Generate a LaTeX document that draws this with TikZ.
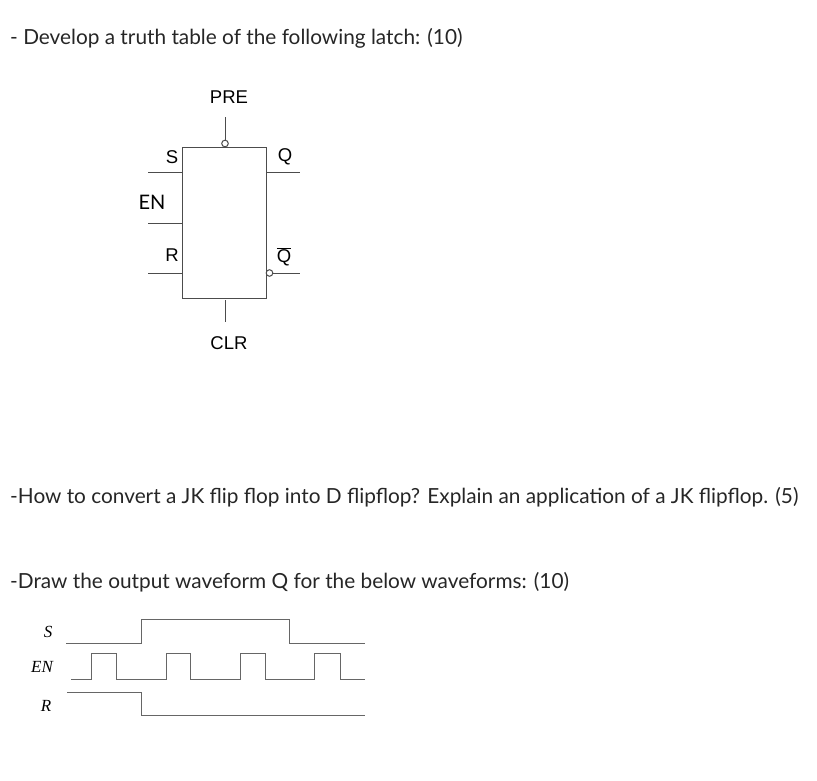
\documentclass[tikz,border=0pt]{standalone}
\usepackage{fontspec}
\setmainfont{Lato}
\newfontfamily\helv{Liberation Sans}
\newfontfamily\tms{Liberation Serif}
\begin{document}
\begin{tikzpicture}[x=1pt,y=-1pt,
  txt/.style={anchor=west,font=\fontsize{20.8}{24}\selectfont,text=black!85,inner sep=0},
  lab/.style={font=\helv\fontsize{18.5}{20}\selectfont,inner sep=0},
  wl/.style={font=\tms\itshape\fontsize{17}{19}\selectfont,inner sep=0},
  wire/.style={draw=black!70,line width=1pt},
  wave/.style={draw=black!60,line width=0.7pt}]
\useasboundingbox (0,0) rectangle (817,780);
\node[txt] (t1) at (10,38) {- Develop a truth table of the following latch: (10)};
\node[txt] (t2) at (10,497) {-How to convert a JK flip flop into D flipflop? Explain an application of a JK flipflop. (5)};
\node[txt] (t3) at (10,582) {-Draw the output waveform Q for the below waveforms: (10)};
% latch
\draw[wire] (182,147) rectangle (266,298);
\draw[wire] (225,117) -- (225,140);
\draw[wire] (225,143.5) circle (3.3);
\draw[wire] (148,172) -- (182,172);
\draw[wire] (148,223) -- (182,223);
\draw[wire] (148,273) -- (182,273);
\draw[wire] (266,172) -- (300,172);
\draw[wire] (269.5,273) circle (3.3);
\draw[wire] (273,273) -- (300,273);
\draw[wire] (225,300) -- (225,322);
\node[lab] (pre) at (229,97) {PRE};
\node[lab] (s) at (172,157) {S};
\node[lab] (q) at (285,157) {Q};
\node[lab,font=\fontsize{20}{22}\selectfont] (en) at (152,202) {EN};
\node[lab] (r) at (172,255) {R};
\node[lab] (qb) at (284,257) {$\overline{\mbox{Q}}$};
\node[lab] (clr) at (229,343) {CLR};
% waveforms
\node[wl] (ws) at (48,632) {S};
\node[wl] (wen) at (42,667) {EN};
\node[wl] (wr) at (46,706) {R};
\draw[wave] (66,643) -- (141,643) -- (141,619) -- (289,619) -- (289,643) -- (365,643);
\draw[wave] (71,679) -- (91,679) -- (91,653) -- (116,653) -- (116,679) -- (166,679) -- (166,653) -- (190,653) -- (190,679) -- (240,679) -- (240,653) -- (265,653) -- (265,679) -- (314,679) -- (314,653) -- (340,653) -- (340,679) -- (365,679);
\draw[wave] (67,692) -- (141,692) -- (141,715) -- (365,715);
\end{tikzpicture}
\end{document}
